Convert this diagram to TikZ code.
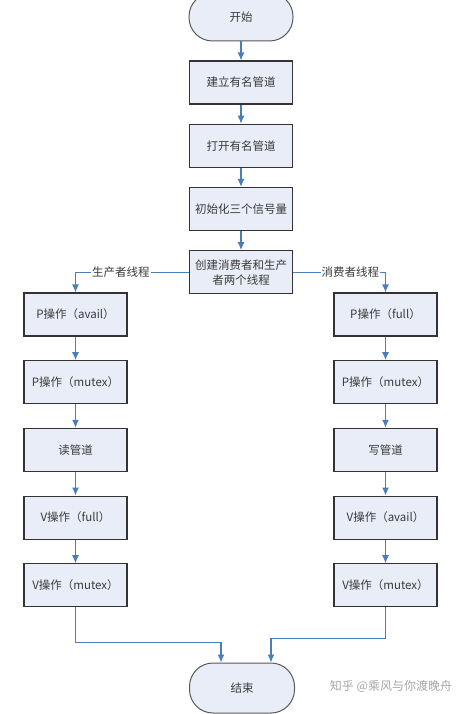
\documentclass[tikz,border=0pt]{standalone}
\usepackage{fontspec}
\setmainfont{Noto Sans CJK SC}
\usepackage{xcolor}
\usepackage{tikz}
\usetikzlibrary{positioning,arrows.meta}
\definecolor{boxfill}{HTML}{E9EDF7}
\definecolor{linkblue}{HTML}{4A7EBB}
\definecolor{boxtext}{HTML}{3A3A3A}

\begin{document}
\begin{tikzpicture}[x=1pt, y=-1pt, node distance=19pt,
  box/.style={rectangle, draw=black!80, line width=1.2pt, fill=boxfill, text=boxtext, minimum width=103pt, minimum height=43pt, align=center, inner sep=2pt, font=\fontsize{11.5}{15}\selectfont},
  term/.style={rectangle, rounded corners=23.5pt, draw=black!65, line width=1pt, fill=boxfill, text=boxtext, minimum width=104pt, minimum height=48pt, font=\fontsize{11.5}{15}\selectfont},
  arr/.style={draw=linkblue, line width=1.2pt, -{Latex[length=8pt,width=7pt]}},
  tag/.style={fill=white, inner sep=1pt, text=boxtext, font=\fontsize{11.5}{15}\selectfont}]
\useasboundingbox (0,0) rectangle (474,714);

% main column
\node[term] (start) at (241,17) {开始};
\node[box, below=19pt of start] (mkpipe) {建立有名管道};
\node[box, below=19pt of mkpipe] (openpipe) {打开有名管道};
\node[box, below=19pt of openpipe] (initsem) {初始化三个信号量};
\node[box, below=19pt of initsem] (mkthread) {创建消费者和生产\\者两个线程};

% producer column
\node[box] (pavail) at (75.5,314.5) {P操作（avail）};
\node[box, below=23.5pt of pavail] (pmutexa) {P操作（mutex）};
\node[box, below=23.5pt of pmutexa] (rdpipe) {读管道};
\node[box, below=23.5pt of rdpipe] (vfull) {V操作（full）};
\node[box, below=23.5pt of vfull] (vmutexa) {V操作（mutex）};

% consumer column
\node[box] (pfull) at (385.5,314.5) {P操作（full）};
\node[box, below=23.5pt of pfull] (pmutexb) {P操作（mutex）};
\node[box, below=23.5pt of pmutexb] (wrpipe) {写管道};
\node[box, below=23.5pt of wrpipe] (vavail) {V操作（avail）};
\node[box, below=23.5pt of vavail] (vmutexb) {V操作（mutex）};

\node[term, minimum width=105pt, minimum height=50pt] (finish) at (242,688) {结束};

\draw[arr] (start) -- (mkpipe);
\draw[arr] (mkpipe) -- (openpipe);
\draw[arr] (openpipe) -- (initsem);
\draw[arr] (initsem) -- (mkthread);

\draw[arr] (mkthread.west) -| node[tag, pos=0.3] {生产者线程} (pavail.north);
\draw[arr] (mkthread.east) -| node[tag, pos=0.31] {消费者线程} (pfull.north);

\draw[arr] (pavail) -- (pmutexa);
\draw[arr] (pmutexa) -- (rdpipe);
\draw[arr] (rdpipe) -- (vfull);
\draw[arr] (vfull) -- (vmutexa);

\draw[arr] (pfull) -- (pmutexb);
\draw[arr] (pmutexb) -- (wrpipe);
\draw[arr] (wrpipe) -- (vavail);
\draw[arr] (vavail) -- (vmutexb);

\draw[arr] (vmutexa.south) -- ++(0,35) -| ([xshift=-21pt]finish.north);
\draw[arr] (vmutexb.south) -- ++(0,31) -| ([xshift=29pt]finish.north);

% watermark
\node[text=black!35, font=\fontsize{12}{15}\selectfont] (mark) at (391,686) {知乎 @乘风与你渡晚舟};
\end{tikzpicture}
\end{document}
